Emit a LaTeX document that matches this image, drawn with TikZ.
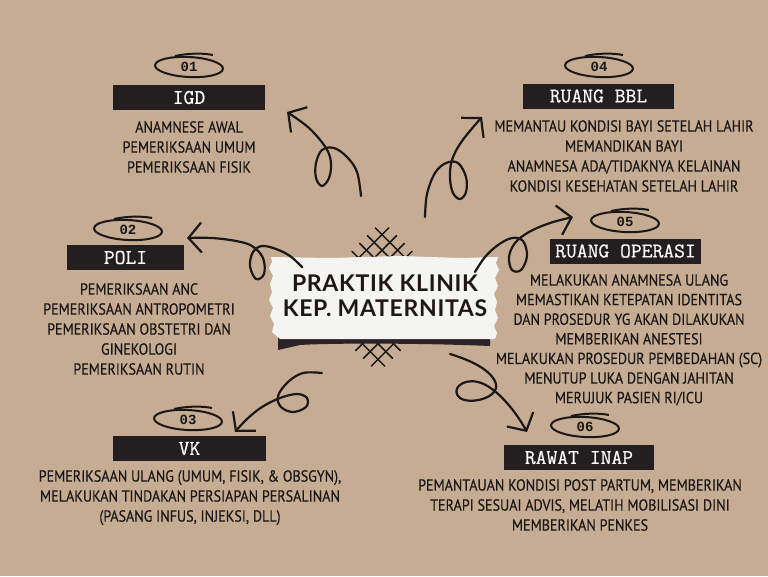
\documentclass[tikz,border=0pt]{standalone}
\usepackage{fontspec}
\usetikzlibrary{arrows.meta}
\newfontfamily\handfont[FakeStretch=0.88, FakeBold=0.4]{PT Sans}
\newfontfamily\titlefont[LetterSpace=3]{Lato}
\newfontfamily\numfont{Liberation Mono}
\newfontfamily\labfont[FakeBold=0.5]{Latin Modern Mono}
\definecolor{kraft}{RGB}{197,172,146}
\definecolor{ink}{RGB}{28,24,24}
\definecolor{barbg}{RGB}{35,31,32}
\definecolor{paperw}{RGB}{244,244,242}
\definecolor{bandc}{RGB}{43,35,39}
\tikzset{
  bar/.style={fill=barbg, text=white, font=\labfont\fontsize{21}{21}\selectfont, minimum height=25, inner sep=0},
  body/.style={font=\handfont\fontsize{16}{20}\selectfont, text=ink, align=center, inner sep=0, anchor=north},
  numtxt/.style={font=\numfont\bfseries\fontsize{14}{14}\selectfont, text=ink, inner sep=0},
  ell/.style={draw=ink, line width=2pt},
  hatch/.style={draw=ink, line width=1.5pt, line cap=round},
  curly/.style={draw=ink, line width=2.2pt, line cap=round, line join=round,
    -{Straight Barb[length=13pt, width=30pt, line width=2.2pt]}},
  titletext/.style={font=\titlefont\bfseries\fontsize{23}{25}\selectfont, text=ink, align=center, inner sep=0}
}
\newcommand\numtag[4]{%
  \node[numtxt] (#1) at (#2,#3) {#4};
  \draw[ell, rotate around={-3:(#1.center)}] (#1.center) ellipse (34 and 10);
  \draw[ell] ([shift={(-14,-11)}]#1.center) .. controls +(14,-3) and +(-10,-2) .. ([shift={(24,-12)}]#1.center);
}
\begin{document}
\begin{tikzpicture}[x=1pt, y=-1pt]
\useasboundingbox (0,0) rectangle (768,576);
\fill[kraft] (0,0) rectangle (768,576);

% lattices behind the paper
\begin{scope}[shift={(382,258)}, rotate=45]
  \foreach \s in {-16.5,-5.5,5.5,16.5} {\draw[hatch] (\s,-26) -- (\s,26); \draw[hatch] (-26,\s) -- (26,\s);}
\end{scope}
\begin{scope}[shift={(378,336)}, rotate=45]
  \foreach \s in {-16.5,-5.5,5.5,16.5} {\draw[hatch] (\s,-26) -- (\s,26); \draw[hatch] (-26,\s) -- (26,\s);}
\end{scope}

% dark band and torn paper
\fill[bandc] (278,336) -- (490,336) -- (490,346) .. controls (420,343) and (330,343) .. (300,345) -- (278,350) -- cycle;
\fill[paperw] (271,257) -- (330,258) -- (400,256) -- (460,258) -- (498,257) -- (496,263) -- (499,270) -- (495,278) -- (498,286) -- (494,294) -- (497,302) -- (495,310) -- (498,318) -- (494,326) -- (497,333) -- (495,339) -- (280,339) -- (272,332) -- (274,324) -- (270,316) -- (273,308) -- (269,300) -- (272,292) -- (270,284) -- (273,276) -- (269,268) -- (272,262) -- cycle;
\node[titletext] (title) at (385,296) {PRAKTIK KLINIK\\KEP. MATERNITAS};

% section headers
\numtag{n1}{189}{67}{01}
\node[bar, minimum width=152] (igd) at (189,97.5) {IGD};
\node[body] (igdt) at (189,121) {ANAMNESE AWAL\\PEMERIKSAAN UMUM\\PEMERIKSAAN FISIK};

\numtag{n4}{599}{67}{04}
\node[bar, minimum width=151] (bbl) at (598.5,96) {RUANG BBL};
\node[body] (bblt) at (624,120) {MEMANTAU KONDISI BAYI SETELAH LAHIR\\MEMANDIKAN BAYI\\ANAMNESA ADA/TIDAKNYA KELAINAN\\KONDISI KESEHATAN SETELAH LAHIR};

\numtag{n2}{128}{230}{02}
\node[bar, minimum width=117] (poli) at (125.5,257.5) {POLI};
\node[body] (polit) at (139,283) {PEMERIKSAAN ANC\\PEMERIKSAAN ANTROPOMETRI\\PEMERIKSAAN OBSTETRI DAN\\GINEKOLOGI\\PEMERIKSAAN RUTIN};

\numtag{n5}{625}{222}{05}
\node[bar, minimum width=151] (ops) at (625.5,251) {RUANG OPERASI};
\node[body, font=\handfont\fontsize{16}{19.6}\selectfont] (opst) at (629,274) {MELAKUKAN ANAMNESA ULANG\\MEMASTIKAN KETEPATAN IDENTITAS\\DAN PROSEDUR YG AKAN DILAKUKAN\\MEMBERIKAN ANESTESI\\MELAKUKAN PROSEDUR PEMBEDAHAN (SC)\\MENUTUP LUKA DENGAN JAHITAN\\MERUJUK PASIEN RI/ICU};

\numtag{n3}{188}{420}{03}
\node[bar, minimum width=153] (vk) at (189.5,448.5) {VK};
\node[body] (vkt) at (190,470) {PEMERIKSAAN ULANG (UMUM, FISIK, \& OBSGYN),\\MELAKUKAN TINDAKAN PERSIAPAN PERSALINAN\\(PASANG INFUS, INJEKSI, DLL)};

\numtag{n6}{585}{427}{06}
\node[bar, minimum width=150] (ri) at (579,457.5) {RAWAT INAP};
\node[body] (rit) at (580,479) {PEMANTAUAN KONDISI POST PARTUM, MEMBERIKAN\\TERAPI SESUAI ADVIS, MELATIH MOBILISASI DINI\\MEMBERIKAN PENKES};

% curly arrows
\coordinate (a1s) at (361,196); \coordinate (a1t) at (287,112);
\coordinate (a2s) at (425,217); \coordinate (a2t) at (482,117);
\coordinate (a3s) at (302,267); \coordinate (a3t) at (187,238);
\coordinate (a4s) at (475,272); \coordinate (a4t) at (573,217);
\coordinate (a5s) at (322,373); \coordinate (a5t) at (235,432);
\coordinate (a6s) at (450,354); \coordinate (a6t) at (527,432);

\draw[curly] plot[smooth, tension=0.6] coordinates {(a1s) (357,172) (347,157) (334,148) (322,150) (316,163) (316,178) (322,186) (329,178) (331,163) (326,148) (309,128) (a1t)};
\draw[curly] plot[smooth, tension=0.6] coordinates {(a2s) (427,194) (435,173) (446,163) (458,163) (466,177) (466,192) (460,199) (453,193) (450,178) (452,160) (462,141) (a2t)};
\draw[curly] plot[smooth, tension=0.6] coordinates {(a3s) (290,256) (276,249) (262,246) (253,252) (250,266) (256,279) (264,274) (263,258) (252,246) (236,241) (212,238) (a3t)};
\draw[curly] plot[smooth, tension=0.6] coordinates {(a4s) (485,257) (498,245) (512,238) (523,241) (527,256) (521,270) (512,270) (509,257) (515,243) (529,232) (550,223) (a4t)};
\draw[curly] plot[smooth, tension=0.6] coordinates {(a5s) (303,373) (288,382) (278,396) (281,407) (293,412) (306,407) (307,398) (297,394) (280,398) (262,407) (247,419) (a5t)};
\draw[curly] (a6s) .. controls (470,360) and (492,370) .. (496,384) .. controls (499,398) and (470,405) .. (460,398) .. controls (450,390) and (462,378) .. (478,382) .. controls (495,386) and (515,410) .. (a6t);
\end{tikzpicture}
\end{document}
